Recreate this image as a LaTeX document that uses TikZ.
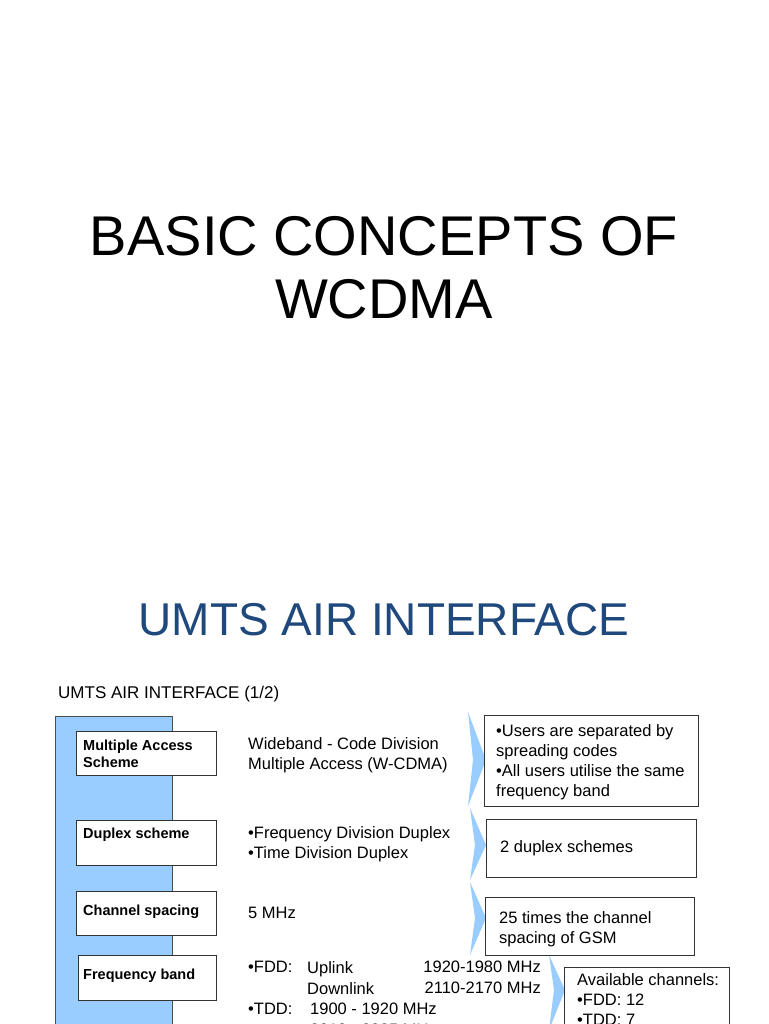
\documentclass[tikz,border=0pt]{standalone}
\usepackage{fontspec}
\setmainfont{Liberation Sans}
\definecolor{lblue}{HTML}{99CCFF}
\definecolor{tblue}{HTML}{1F497D}
\begin{document}
\begin{tikzpicture}[x=1pt,y=-1pt,
  lbox/.style={draw=black!80,line width=1pt,fill=white},
  ltxt/.style={anchor=north west,font=\fontsize{14.5}{17}\selectfont\bfseries,align=left,inner sep=0pt},
  mtxt/.style={anchor=north west,font=\fontsize{16.5}{20}\selectfont,align=left,inner sep=0pt},
  chev/.style={fill=lblue,draw=none}]
\useasboundingbox (0,0) rectangle (768,1024);
\node (t1) at (384,268) [align=center,font=\fontsize{56}{63}\selectfont] {BASIC CONCEPTS OF\\WCDMA};
\node (t2) at (384,620) [text=tblue,font=\fontsize{46}{50}\selectfont] {UMTS AIR INTERFACE};
\node (t3) [anchor=west,inner sep=0pt,font=\fontsize{17}{19}\selectfont] at (58,694) {UMTS AIR INTERFACE (1/2)};
\fill[lblue] (55,716) rectangle (172,1030);
\draw[black!70,line width=0.8pt] (55,1030) -- (55,716) -- (172,716) -- (172,1030);
% left boxes
\draw[lbox] (76,731) rectangle (216,775); \node[ltxt] (a1) at (83,740) {Multiple Access\\Scheme};
\draw[lbox] (76,820) rectangle (216,865); \node[ltxt] (a2) at (83,828) {Duplex scheme};
\draw[lbox] (76,891) rectangle (216,935); \node[ltxt] (a3) at (83,905) {Channel spacing};
\draw[lbox] (78,955) rectangle (216,1000); \node[ltxt] (a4) at (83,969) {Frequency band};
% middle texts
\node[mtxt] (m1) at (248,737) {Wideband - Code Division\\Multiple Access (W-CDMA)};
\node[mtxt] (m2) at (248,826) {\textbullet Frequency Division Duplex\\\textbullet Time Division Duplex};
\node[mtxt] (m3) at (248,907) {5 MHz};
\node[mtxt] (m4a) at (248,961) {\textbullet FDD:\\[1pt]\\[1pt]\textbullet TDD:};
\node[mtxt] (m4b) at (307,961) {Uplink\\[1pt]Downlink};
\node[mtxt,anchor=north east,align=right] (m4c) at (541,961) {1920-1980 MHz\\[1pt]2110-2170 MHz};
\node[mtxt] (m4d) at (310,1003) {1900 - 1920 MHz\\[1pt]2010 - 2025 MHz};
% chevrons
\fill[chev] (468,712) -- (486,760) -- (468,806) -- (473,760) -- cycle;
\fill[chev] (470,808) -- (486,845) -- (470,880) -- (475,845) -- cycle;
\fill[chev] (470,882) -- (486,918) -- (470,955) -- (475,918) -- cycle;
\fill[chev] (549,955) -- (565,990) -- (549,1030) -- (554,990) -- cycle;
% right boxes
\draw[lbox] (484,715) rectangle (698,806);
\node[mtxt] (r1) at (496,724) {\textbullet Users are separated by\\spreading codes\\\textbullet All users utilise the same\\frequency band};
\draw[lbox] (486,819) rectangle (696,877);
\node[mtxt] (r2) at (500,840) {2 duplex schemes};
\draw[lbox] (485,897) rectangle (694,955);
\node[mtxt] (r3) at (499,911) {25 times the channel\\spacing of GSM};
\draw[lbox] (564,967) rectangle (729,1040);
\node[mtxt] (r4) at (577,973) {Available channels:\\\textbullet FDD: 12\\\textbullet TDD: 7};
\end{tikzpicture}
\end{document}
